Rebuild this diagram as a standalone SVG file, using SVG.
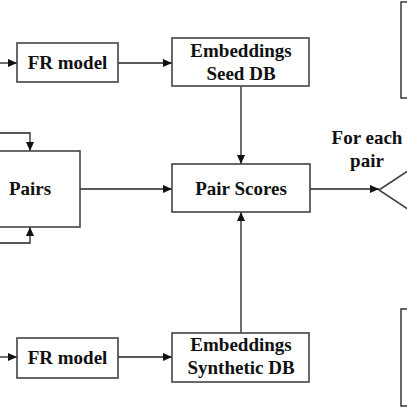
<svg xmlns="http://www.w3.org/2000/svg" width="407" height="407" viewBox="0 0 407 407">
<defs>
<marker id="ah" markerWidth="9" markerHeight="8" refX="9" refY="4" orient="auto" markerUnits="userSpaceOnUse">
<path d="M0,0 L9,4 L0,8 Z" fill="#111"/>
</marker>
<style>
.box{fill:#fff;stroke:#444;stroke-width:1.6}
.ln{fill:none;stroke:#222;stroke-width:1.3}
.t{font-family:"Liberation Serif","Times New Roman",serif;font-weight:bold;font-size:19px;fill:#111;text-anchor:middle}
</style>
</defs>
<rect width="407" height="407" fill="#fff"/>
<g id="connectors">
<path class="ln" d="M0,63 H17" marker-end="url(#ah)"/>
<path class="ln" d="M118,63 H172" marker-end="url(#ah)"/>
<path class="ln" d="M241,86 V164" marker-end="url(#ah)"/>
<path class="ln" d="M0,133 H30 V151" marker-end="url(#ah)"/>
<path class="ln" d="M0,243 H30 V227" marker-end="url(#ah)"/>
<path class="ln" d="M80,189 H172" marker-end="url(#ah)"/>
<path class="ln" d="M310,189 H379" marker-end="url(#ah)"/>
<path class="ln" d="M241,333 V212" marker-end="url(#ah)"/>
<path class="ln" d="M0,357 H17" marker-end="url(#ah)"/>
<path class="ln" d="M118,357 H172" marker-end="url(#ah)"/>
</g>
<g id="fr-top"><rect class="box" x="17" y="43" width="101" height="39"/><text class="t" x="67.5" y="69">FR model</text></g>
<g id="emb-seed"><rect class="box" x="172" y="38" width="137" height="48"/><text class="t" x="241" y="57">Embeddings</text><text class="t" x="241" y="80">Seed DB</text></g>
<g id="pairs"><rect class="box" x="-30" y="151" width="110" height="76"/><text class="t" x="30" y="195">Pairs</text></g>
<g id="pair-scores"><rect class="box" x="172" y="164" width="138" height="48"/><text class="t" x="241" y="195">Pair Scores</text></g>
<g id="for-each"><text class="t" x="367" y="144">For each</text><text class="t" x="367" y="167">pair</text></g>
<g id="decision"><path class="box" d="M379,190 L420,163 L461,190 L420,217 Z"/></g>
<g id="fr-bottom"><rect class="box" x="17" y="338" width="101" height="40"/><text class="t" x="67.5" y="364">FR model</text></g>
<g id="emb-synth"><rect class="box" x="172" y="333" width="137" height="49"/><text class="t" x="241" y="351">Embeddings</text><text class="t" x="241" y="374">Synthetic DB</text></g>
<g id="right-top"><rect class="box" x="401" y="2" width="30" height="96"/></g>
<g id="right-bottom"><rect class="box" x="401" y="309" width="30" height="97"/></g>
</svg>
